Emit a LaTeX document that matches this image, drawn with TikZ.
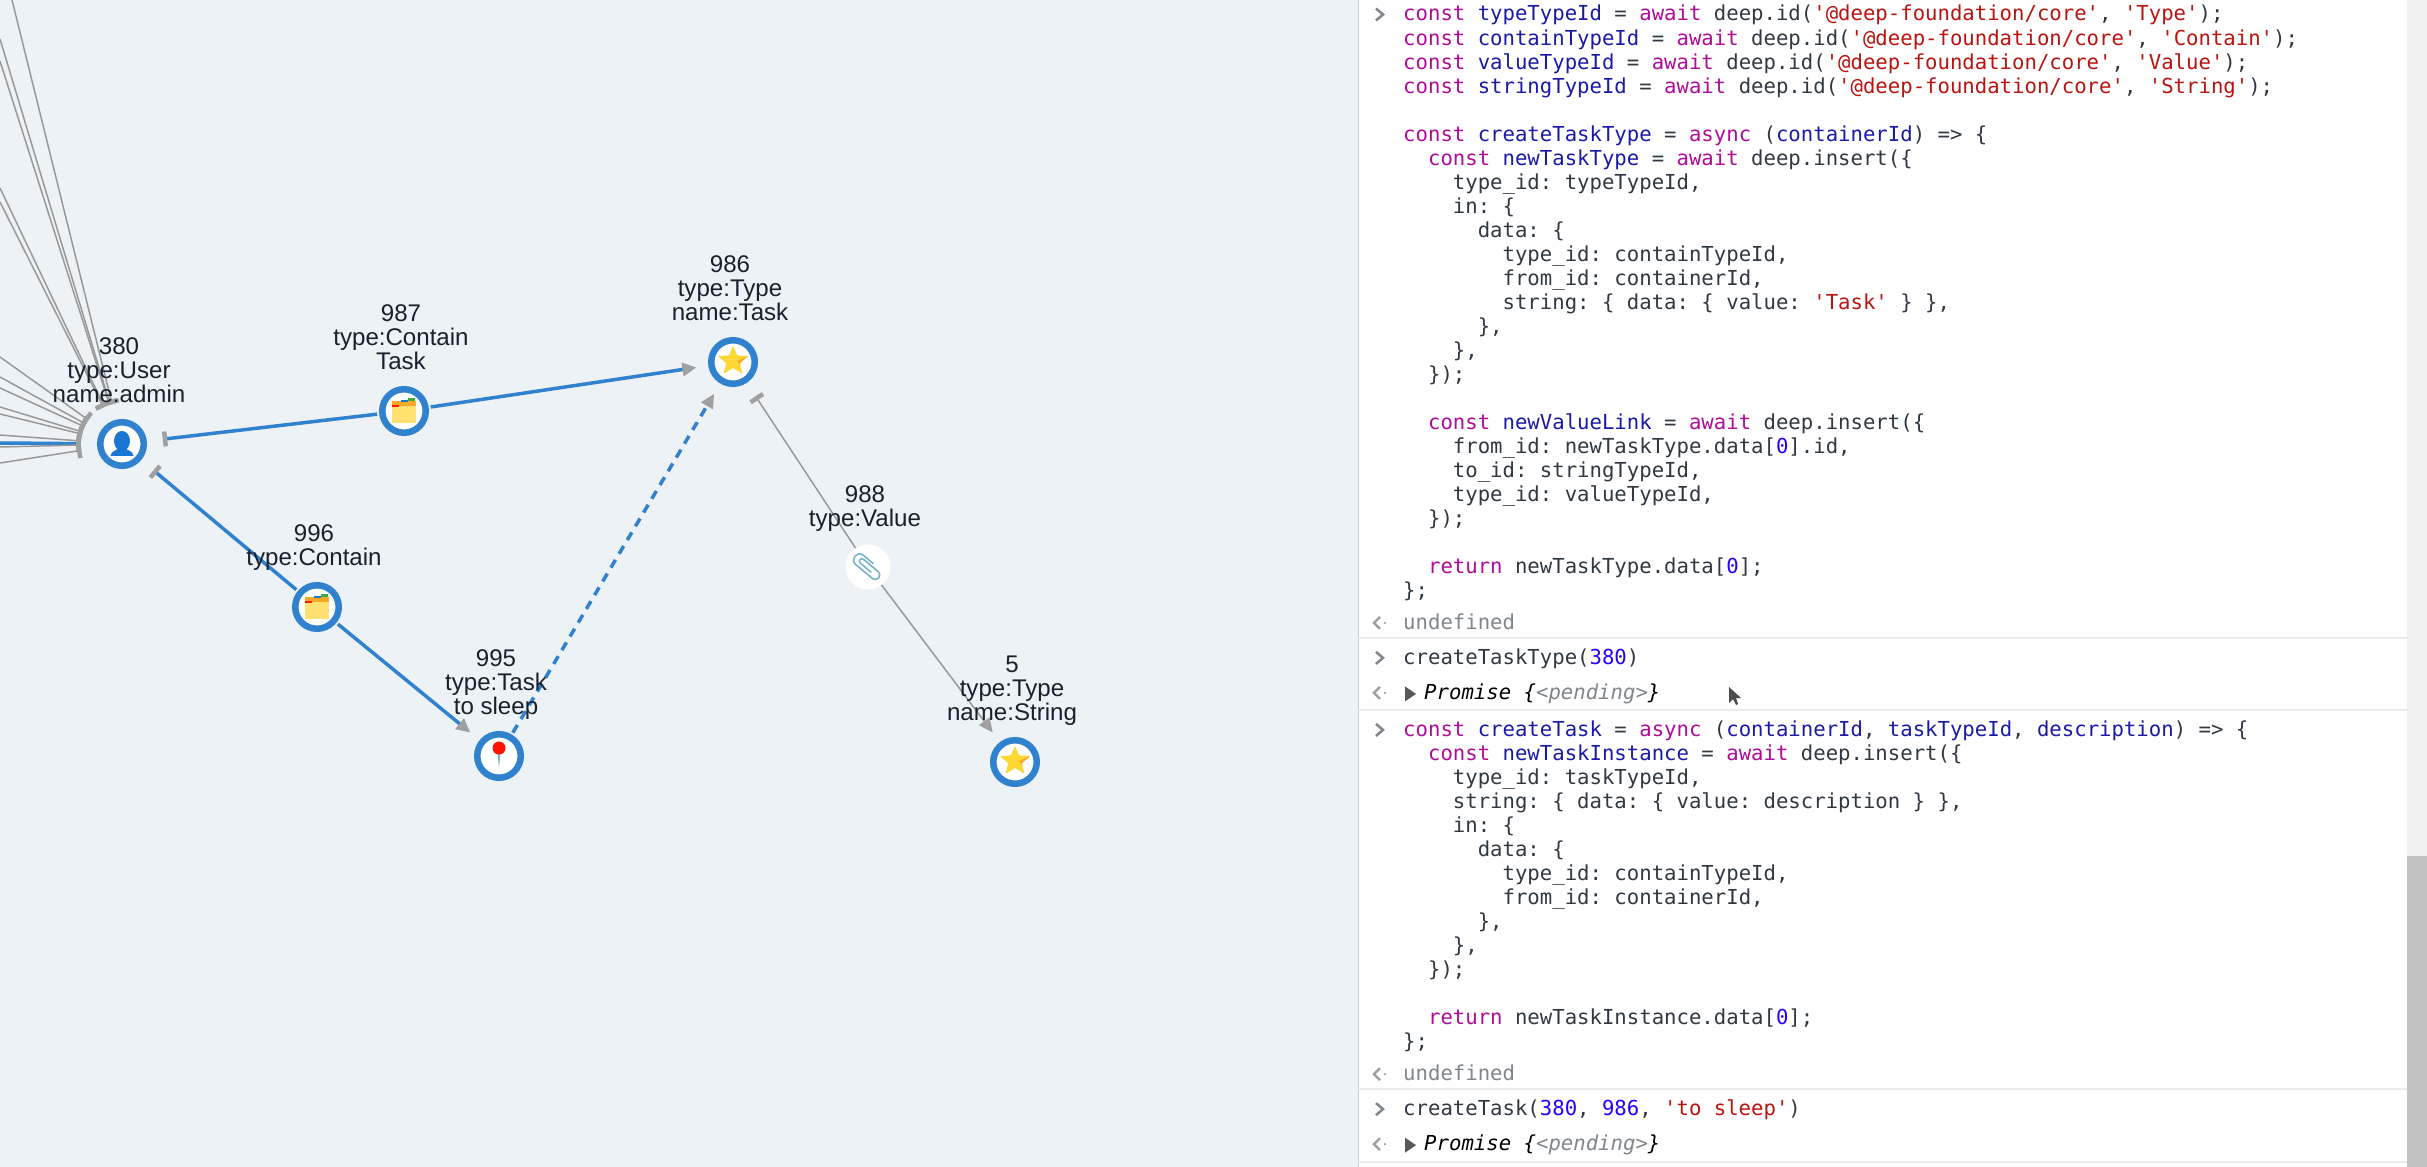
\documentclass[tikz,border=0pt]{standalone}
\usepackage{fontspec}
\usepackage{xcolor}
\usepackage{tikz}
\usetikzlibrary{arrows.meta}
\usetikzlibrary{positioning}

\newfontfamily\codefont{DejaVu Sans Mono}
\newfontfamily\tagfont{Liberation Sans}

\definecolor{paneback}{HTML}{EDF2F7}
\definecolor{ringblue}{HTML}{3182CE}
\definecolor{tagink}{HTML}{1A202C}
\definecolor{tipgrey}{HTML}{A0A0A0}
\definecolor{wiregrey}{HTML}{999999}
\definecolor{folderbody}{HTML}{FFE070}
\definecolor{folderband}{HTML}{F9A825}
\definecolor{starfill}{HTML}{FDD835}
\definecolor{usericon}{HTML}{1976D2}
\definecolor{clipblue}{HTML}{78B5CB}
\definecolor{kwcolor}{HTML}{B00C98}
\definecolor{varcolor}{HTML}{1A1AA6}
\definecolor{strcolor}{HTML}{B81410}
\definecolor{numcolor}{HTML}{2A00FF}
\definecolor{codeink}{HTML}{303942}
\definecolor{faintink}{HTML}{80868B}

\newcommand{\cdkw}[1]{\textcolor{kwcolor}{#1}}
\newcommand{\cdvar}[1]{\textcolor{varcolor}{#1}}
\newcommand{\cdstr}[1]{\textcolor{strcolor}{#1}}
\newcommand{\cdnum}[1]{\textcolor{numcolor}{#1}}
\newcommand{\cdind}{\phantom{xx}}

\tikzset{
    vertex/.style={circle, draw=ringblue, line width=.065cm, fill=white, minimum size=.435cm, inner sep=0pt},
    linkdot/.style={circle, fill=white, minimum size=.45cm, inner sep=0pt, outer sep=0pt},
    tagtext/.style={align=center, inner sep=0pt, xshift=-.03cm, yshift=-.035cm, text=tagink,
        font=\tagfont\fontsize{6.85}{6.83}\selectfont,
        execute at begin node=\strut, execute at end node=\strut},
    codeline/.style={anchor=west, inner sep=0pt, text=codeink, text height=.16cm, text depth=.05cm,
        font=\codefont\fontsize{5.87}{7}\selectfont\frenchspacing},
    blueline/.style={draw=ringblue, line width=.035cm},
    greyline/.style={draw=wiregrey, line width=.015cm},
    fromstub/.style={{Bar[width=.15cm, line width=.045cm, color=tipgrey]}-, shorten <=.16cm},
    totip/.style={-{Triangle[length=.14cm, width=.13cm, color=tipgrey]}, shorten >=.12cm},
    pics/foldericon/.style={code={
        \fill[folderbody] (-12,-5) rectangle (12,12);
        \fill[folderband] (-12,-10) rectangle (12,-5);
        \fill[red!80!orange] (-12,-6) rectangle (-5,-4);
        \fill[cyan!60!blue] (-3,-11) rectangle (4,-9);
        \fill[green!55!black!75] (4,-13) rectangle (11,-10);
    }},
    pics/staricon/.style={code={
        \fill[starfill, rounded corners=.01cm, scale=1.08] (0,-15) -- (3.8,-6) -- (14,-5.5) -- (6.2,1.2) -- (8.8,11)
            -- (0,5.5) -- (-8.8,11) -- (-6.2,1.2) -- (-14,-5.5) -- (-3.8,-6) -- cycle;
        \fill[folderband, scale=1.08] (14,-5.5) -- (6.2,1.2) -- (7,4) -- (4,-1) -- cycle;
    }},
    pics/pinicon/.style={code={
        \fill[clipblue] (-1.5,-3) -- (1.5,-3) -- (0,12) -- cycle;
        \fill[red!85!orange] (0,-8) circle (.065cm);
    }},
    pics/usericon/.style={code={
        \fill[usericon] (0,-3) ellipse (.08cm and .1cm);
        \fill[usericon] (-11.5,12) .. controls (-11,6) and (-4,7) .. (-3,3) -- (3,3)
            .. controls (4,7) and (11,6) .. (11.5,12) -- cycle;
    }},
    pics/clipicon/.style={code={
        \draw[clipblue, line width=.016cm, rotate=-40] (6,2) -- (-8,2) .. controls (-12,2) and (-12,-3) .. (-8,-3)
            -- (10,-3) .. controls (17,-3) and (17,6) .. (10,6) -- (-11,6)
            .. controls (-19,6) and (-19,-6) .. (-11,-6) -- (2,-6);
    }},
    pics/promptin/.style={code={
        \draw[draw=faintink, line width=.025cm] (-4,-6) -- (3,0) -- (-4,6);
    }},
    pics/promptout/.style={code={
        \draw[draw=tipgrey, line width=.025cm] (1,-6) -- (-5,0) -- (1,6);
        \fill[tipgrey] (6,0) circle (.012cm);
    }},
}

\begin{document}
\begin{tikzpicture}[x=.01cm, y=-.01cm, node distance=.12cm]
            \useasboundingbox (0,0) rectangle (2427,1167);
            \fill[paneback] (0,0) rectangle (1358,1167);
            \fill[white] (1358,0) rectangle (2407,1167);
            \fill[black!6] (2407,0) rectangle (2427,1167);
            \fill[black!24] (2407,856) rectangle (2427,1167);
            \draw[black!20, line width=.01cm] (1358,0) -- (1358,1167);
            \draw[black!8, line width=.015cm] (1358,638) -- (2407,638);
            \draw[black!8, line width=.015cm] (1358,710) -- (2407,710);
            \draw[black!8, line width=.015cm] (1358,1089) -- (2407,1089);
            \draw[black!8, line width=.015cm] (1358,1162) -- (2407,1162);

            \node[vertex] (n380) at (122,444) {};
            \node[vertex] (n987) at (404,411) {};
            \node[vertex] (n996) at (317,607) {};
            \node[vertex] (n986) at (733,362) {};
            \node[vertex] (n995) at (499,756) {};
            \node[vertex] (n5) at (1015,762) {};
            \node[linkdot] (n988) at (868,567) {};

            \coordinate (fa) at (12,0);
            \coordinate (fb) at (0,39);
            \coordinate (fc) at (0,61);
            \coordinate (fd) at (0,188);
            \coordinate (fe) at (0,202);
            \coordinate (ff) at (0,357);
            \coordinate (fg) at (0,377);
            \coordinate (fh) at (0,388);
            \coordinate (fi) at (0,407);
            \coordinate (fj) at (0,414);
            \coordinate (fk) at (0,435);
            \coordinate (fl) at (0,443);
            \coordinate (fm) at (0,447);
            \coordinate (fn) at (0,463);

            \draw   (n380) edge[greyline, fromstub] (fa)
                    (n380) edge[greyline, fromstub] (fb)
                    (n380) edge[greyline, fromstub] (fc)
                    (n380) edge[greyline, fromstub] (fd)
                    (n380) edge[greyline, fromstub] (fe)
                    (n380) edge[greyline, fromstub] (ff)
                    (n380) edge[greyline, fromstub] (fg)
                    (n380) edge[greyline, fromstub] (fh)
                    (n380) edge[greyline, fromstub] (fi)
                    (n380) edge[greyline, fromstub] (fj)
                    (n380) edge[greyline, fromstub] (fk)
                    (n380) edge[blueline, fromstub] (fl)
                    (n380) edge[greyline, fromstub] (fm)
                    (n380) edge[greyline, fromstub] (fn)
                    (n380) edge[blueline, fromstub, shorten >=.02cm] (n987)
                    (n987) edge[blueline, totip, shorten <=.02cm] (n986)
                    (n380) edge[blueline, fromstub, shorten >=.02cm] (n996)
                    (n996) edge[blueline, totip, shorten <=.02cm] (n995)
                    (n995) edge[blueline, totip, dash pattern=on .09cm off .07cm, shorten <=.02cm] (n986)
                    (n986) edge[greyline, fromstub] (n988)
                    (n988) edge[greyline, totip] (n5)
                    ;

            \pic at (n380) {usericon};
            \pic at (n987) {foldericon};
            \pic at (n996) {foldericon};
            \pic at (n986) {staricon};
            \pic at (n995) {pinicon};
            \pic at (n5) {staricon};
            \pic at (n988) {clipicon};

            \node[above=of n380, tagtext] (t380) {380\\type:User\\name:admin};
            \node[above=of n987, tagtext] (t987) {987\\type:Contain\\Task};
            \node[above=of n996, tagtext] (t996) {996\\type:Contain};
            \node[above=of n986, tagtext] (t986) {986\\type:Type\\name:Task};
            \node[above=of n995, tagtext] (t995) {995\\type:Task\\to sleep};
            \node[above=of n5, tagtext] (t5) {5\\type:Type\\name:String};
            \node[above=.14cm of n988, tagtext] (t988) {988\\type:Value};

            \node[codeline] (c1) at (1402.5,15.5) {\cdkw{const} \cdvar{typeTypeId} = \cdkw{await} deep.id(\cdstr{'@deep-foundation/core'}, \cdstr{'Type'});};
            \node[below=.24cm of c1.west, codeline] (c2) {\cdkw{const} \cdvar{containTypeId} = \cdkw{await} deep.id(\cdstr{'@deep-foundation/core'}, \cdstr{'Contain'});};
            \node[below=.24cm of c2.west, codeline] (c3) {\cdkw{const} \cdvar{valueTypeId} = \cdkw{await} deep.id(\cdstr{'@deep-foundation/core'}, \cdstr{'Value'});};
            \node[below=.24cm of c3.west, codeline] (c4) {\cdkw{const} \cdvar{stringTypeId} = \cdkw{await} deep.id(\cdstr{'@deep-foundation/core'}, \cdstr{'String'});};
            \node[below=.48cm of c4.west, codeline] (c5) {\cdkw{const} \cdvar{createTaskType} = \cdkw{async} (\cdvar{containerId}) => \{};
            \node[below=.24cm of c5.west, codeline] (c6) {\cdind\cdkw{const} \cdvar{newTaskType} = \cdkw{await} deep.insert(\{};
            \node[below=.24cm of c6.west, codeline] (c7) {\cdind\cdind type\_id: typeTypeId,};
            \node[below=.24cm of c7.west, codeline] (c8) {\cdind\cdind in: \{};
            \node[below=.24cm of c8.west, codeline] (c9) {\cdind\cdind\cdind data: \{};
            \node[below=.24cm of c9.west, codeline] (c10) {\cdind\cdind\cdind\cdind type\_id: containTypeId,};
            \node[below=.24cm of c10.west, codeline] (c11) {\cdind\cdind\cdind\cdind from\_id: containerId,};
            \node[below=.24cm of c11.west, codeline] (c12) {\cdind\cdind\cdind\cdind string: \{ data: \{ value: \cdstr{'Task'} \} \},};
            \node[below=.24cm of c12.west, codeline] (c13) {\cdind\cdind\cdind\},};
            \node[below=.24cm of c13.west, codeline] (c14) {\cdind\cdind\},};
            \node[below=.24cm of c14.west, codeline] (c15) {\cdind\});};
            \node[below=.48cm of c15.west, codeline] (c16) {\cdind\cdkw{const} \cdvar{newValueLink} = \cdkw{await} deep.insert(\{};
            \node[below=.24cm of c16.west, codeline] (c17) {\cdind\cdind from\_id: newTaskType.data[\cdnum{0}].id,};
            \node[below=.24cm of c17.west, codeline] (c18) {\cdind\cdind to\_id: stringTypeId,};
            \node[below=.24cm of c18.west, codeline] (c19) {\cdind\cdind type\_id: valueTypeId,};
            \node[below=.24cm of c19.west, codeline] (c20) {\cdind\});};
            \node[below=.48cm of c20.west, codeline] (c21) {\cdind\cdkw{return} newTaskType.data[\cdnum{0}];};
            \node[below=.24cm of c21.west, codeline] (c22) {\};};
            \node[below=.32cm of c22.west, codeline, text=faintink] (c23) {undefined};
            \node[below=.35cm of c23.west, codeline] (c24) {createTaskType(\cdnum{380})};
            \node[below=.35cm of c24.west, codeline, xshift=.21cm, text=black] (c25) {\textit{Promise \{\textcolor{faintink}{<pending>}\}}};
            \node[below=.37cm of c24.west, yshift=-.35cm, codeline] (c26) {\cdkw{const} \cdvar{createTask} = \cdkw{async} (\cdvar{containerId}, \cdvar{taskTypeId}, \cdvar{description}) => \{};
            \node[below=.24cm of c26.west, codeline] (c27) {\cdind\cdkw{const} \cdvar{newTaskInstance} = \cdkw{await} deep.insert(\{};
            \node[below=.24cm of c27.west, codeline] (c28) {\cdind\cdind type\_id: taskTypeId,};
            \node[below=.24cm of c28.west, codeline] (c29) {\cdind\cdind string: \{ data: \{ value: description \} \},};
            \node[below=.24cm of c29.west, codeline] (c30) {\cdind\cdind in: \{};
            \node[below=.24cm of c30.west, codeline] (c31) {\cdind\cdind\cdind data: \{};
            \node[below=.24cm of c31.west, codeline] (c32) {\cdind\cdind\cdind\cdind type\_id: containTypeId,};
            \node[below=.24cm of c32.west, codeline] (c33) {\cdind\cdind\cdind\cdind from\_id: containerId,};
            \node[below=.24cm of c33.west, codeline] (c34) {\cdind\cdind\cdind\},};
            \node[below=.24cm of c34.west, codeline] (c35) {\cdind\cdind\},};
            \node[below=.24cm of c35.west, codeline] (c36) {\cdind\});};
            \node[below=.48cm of c36.west, codeline] (c37) {\cdind\cdkw{return} newTaskInstance.data[\cdnum{0}];};
            \node[below=.24cm of c37.west, codeline] (c38) {\};};
            \node[below=.32cm of c38.west, codeline, text=faintink] (c39) {undefined};
            \node[below=.35cm of c39.west, codeline] (c40) {createTask(\cdnum{380}, \cdnum{986}, \cdstr{'to sleep'})};
            \node[below=.35cm of c40.west, codeline, xshift=.21cm, text=black] (c41) {\textit{Promise \{\textcolor{faintink}{<pending>}\}}};

            \pic at ([xshift=-.225cm, yshift=.01cm]c1.west) {promptin};
            \pic at ([xshift=-.225cm, yshift=.01cm]c24.west) {promptin};
            \pic at ([xshift=-.225cm, yshift=.01cm]c26.west) {promptin};
            \pic at ([xshift=-.225cm, yshift=.01cm]c40.west) {promptin};
            \pic at ([xshift=-.235cm, yshift=.01cm]c23.west) {promptout};
            \pic at ([xshift=-.235cm, yshift=.01cm]c39.west) {promptout};
            \pic at ([xshift=-.445cm, yshift=.01cm]c25.west) {promptout};
            \pic at ([xshift=-.445cm, yshift=.01cm]c41.west) {promptout};
            \fill[black!65] ([xshift=-.185cm, yshift=.075cm]c25.west) -- ([xshift=-.075cm]c25.west) -- ([xshift=-.185cm, yshift=-.075cm]c25.west) -- cycle;
            \fill[black!65] ([xshift=-.185cm, yshift=.075cm]c41.west) -- ([xshift=-.075cm]c41.west) -- ([xshift=-.185cm, yshift=-.075cm]c41.west) -- cycle;
            \fill[black!70] (1729,687) -- (1729,703) -- (1733,699) -- (1736,705) -- (1738,704) -- (1736,698) -- (1741,698) -- cycle;
        \end{tikzpicture}
\end{document}
